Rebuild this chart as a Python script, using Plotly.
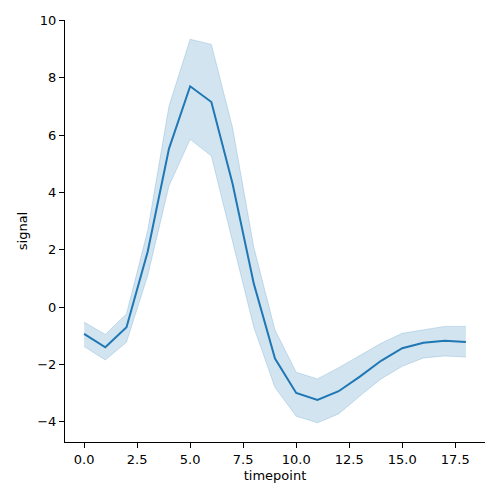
import plotly.graph_objects as go

# data (mean signal with 95% CI band)
timepoint = list(range(19))
signal_mean = [-0.93, -1.40, -0.70, 1.94, 5.52, 7.70, 7.15, 4.30, 0.82, -1.79,
               -2.99, -3.23, -2.93, -2.42, -1.87, -1.43, -1.24, -1.17, -1.21]
ci_upper = [-0.52, -0.95, -0.23, 2.68, 7.00, 9.34, 9.16, 6.25, 2.09, -0.80,
            -2.27, -2.50, -2.11, -1.67, -1.26, -0.91, -0.79, -0.67, -0.67]
ci_lower = [-1.37, -1.84, -1.22, 1.10, 4.22, 5.85, 5.27, 2.33, -0.70, -2.80,
            -3.80, -4.03, -3.72, -3.10, -2.50, -2.06, -1.77, -1.70, -1.74]

x_ticks = [0, 2.5, 5, 7.5, 10, 12.5, 15, 17.5]
x_ticklabels = ["0.0", "2.5", "5.0", "7.5", "10.0", "12.5", "15.0", "17.5"]
y_ticks = [-4, -2, 0, 2, 4, 6, 8, 10]

blue = "#1f77b4"
band = "rgba(31,119,180,0.2)"

fig = go.Figure()
fig.add_trace(go.Scatter(x=timepoint, y=ci_upper, mode="lines",
                         line=dict(color=band, width=1), showlegend=False, hoverinfo="skip"))
fig.add_trace(go.Scatter(x=timepoint, y=ci_lower, mode="lines", fill="tonexty",
                         fillcolor=band, line=dict(color=band, width=1),
                         showlegend=False, hoverinfo="skip"))
fig.add_trace(go.Scatter(x=timepoint, y=signal_mean, mode="lines",
                         line=dict(color=blue, width=2), showlegend=False))

label_font = dict(family="DejaVu Sans", size=13, color="black")
axis_style = dict(showline=True, linecolor="black", linewidth=1.1, mirror=False,
                  ticks="outside", ticklen=5, tickwidth=1.1, tickcolor="black",
                  showgrid=False, zeroline=False, automargin=False,
                  tickfont=label_font)

# the page body adds an 8px offset, so the margins are shifted to compensate
fig.update_layout(
    width=500, height=500,
    margin=dict(l=57, r=23, t=12, b=66),
    plot_bgcolor="white", paper_bgcolor="white",
    font=label_font,
    xaxis=dict(range=[-0.9, 18.9], tickvals=x_ticks, ticktext=x_ticklabels,
               title=dict(text="timepoint", standoff=5, font=label_font), **axis_style),
    yaxis=dict(range=[-4.70, 10.01], tickvals=y_ticks,
               title=dict(text="signal", standoff=6, font=label_font), **axis_style),
)

fig.write_html("out.html")
